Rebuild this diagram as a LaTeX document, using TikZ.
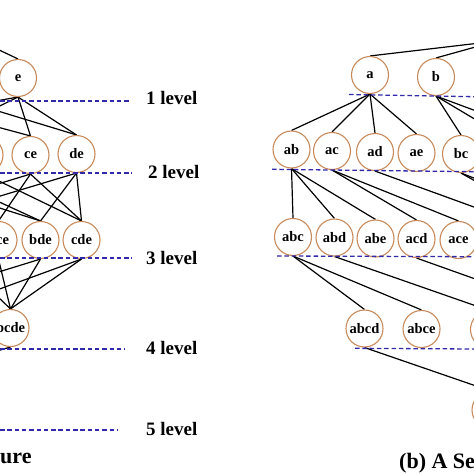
\documentclass[tikz,border=0pt]{standalone}
\usepackage{fontspec}
\setmainfont{Liberation Serif}
\definecolor{ring}{RGB}{200,138,90}
\definecolor{lvl}{RGB}{50,40,170}
\pgfdeclarelayer{bg}
\pgfsetlayers{bg,main}
\tikzset{
  setnode/.style={circle, draw=ring, line width=1.1pt, fill=white, minimum size=37pt, inner sep=0pt,
    font=\fontsize{14.5}{15}\selectfont\bfseries},
  edge/.style={line width=1.2pt, black},
  lvline/.style={draw=lvl, line width=1.3pt, dash pattern=on 4.5pt off 2.8pt},
  lvtext/.style={anchor=west, inner sep=0pt, font=\fontsize{19}{20}\selectfont\bfseries},
  captext/.style={anchor=west, inner sep=0pt, font=\fontsize{22}{24}\selectfont\bfseries},
}
\begin{document}
\begin{tikzpicture}[x=1pt,y=-1pt]
\useasboundingbox (0,0) rectangle (474,474);
\begin{pgfonlayer}{bg}
  \fill[white] (0,0) rectangle (474,474);
\end{pgfonlayer}
\clip (0,0) rectangle (474,474);

% ---------------- left panel: lattice (nodes outside the frame carry no label) ----------------
\coordinate (Lroot) at (-64,20);
\foreach \n/\x in {a/-246,b/-180,c/-114,d/-48}
  \node[setnode] (L\n) at (\x,78) {};
\node[setnode] (Le) at (18,78) {e};
\foreach \n/\x in {ab/-337.5,ac/-291.5,ad/-245.5,ae/-199.5,bc/-153.5,bd/-107.5,be/-61.5,cd/-15.5}
  \node[setnode] (L\n) at (\x,155) {};
\node[setnode] (Lce) at (30.5,155) {ce};
\node[setnode] (Lde) at (76.5,154) {de};
\foreach \n/\x in {abc/-287.5,abd/-246.5,abe/-205.5,acd/-164.5,ace/-123.5,ade/-82.5,bcd/-41.5}
  \node[setnode] (L\n) at (\x,240) {};
\node[setnode] (Lbce) at (-1.5,240) {bce};
\node[setnode] (Lbde) at (40.5,240) {bde};
\node[setnode] (Lcde) at (81.5,240) {cde};
\foreach \n/\x in {abcd/-253,abce/-187,abde/-121,acde/-55}
  \node[setnode] (L\n) at (\x,328) {};
\node[setnode] (Lbcde) at (10.5,328) {bcde};
\node[setnode] (Labcde) at (-140,410) {};

\begin{pgfonlayer}{bg}
  \clip (0,0) rectangle (474,474);
  \foreach \c in {a,b,c,d,e}
    \draw[edge] (Lroot) -- (L\c.north);
  \foreach \p/\c in {a/ab,a/ac,a/ad,a/ae,b/ab,b/bc,b/bd,b/be,c/ac,c/bc,c/cd,c/ce,d/ad,d/bd,d/cd,d/de,e/ae,e/be,e/ce,e/de,
      ab/abc,ab/abd,ab/abe,ac/abc,ac/acd,ac/ace,ad/abd,ad/acd,ad/ade,ae/abe,ae/ace,ae/ade,bc/abc,bc/bcd,bc/bce,
      bd/abd,bd/bcd,bd/bde,be/abe,be/bce,be/bde,cd/acd,cd/bcd,cd/cde,ce/ace,ce/bce,ce/cde,de/ade,de/bde,de/cde,
      abc/abcd,abc/abce,abd/abcd,abd/abde,abe/abce,abe/abde,acd/abcd,acd/acde,ace/abce,ace/acde,ade/abde,ade/acde,
      bcd/abcd,bcd/bcde,bce/abce,bce/bcde,bde/abde,bde/bcde,cde/acde,cde/bcde,
      abcd/abcde,abce/abcde,abde/abcde,acde/abcde,bcde/abcde}
    \draw[edge] (L\p.south) -- (L\c.north);
\end{pgfonlayer}

\draw[lvline] (0,101) -- (131,101);
\draw[lvline] (0,173) -- (132,173);
\draw[lvline] (0,258) -- (132,258);
\draw[lvline] (0,349) -- (125,349);
\draw[lvline] (0,430) -- (117,430);

\node[lvtext] (t1) at (146,98) {1 level};
\node[lvtext] (t2) at (148,172) {2 level};
\node[lvtext] (t3) at (146,258) {3 level};
\node[lvtext] (t4) at (146,348) {4 level};
\node[lvtext] (t5) at (146,429) {5 level};
\node[captext] (capa) at (0,458) {ure};

% ---------------- right panel: set-enumeration tree ----------------
\coordinate (Rroot) at (497,41);
\node[setnode] (Ra) at (370,75) {a};
\node[setnode] (Rb) at (436,77) {b};
\foreach \n/\x/\y in {c/502/79,d/568/81,e/634/83}
  \node[setnode] (R\n) at (\x,\y) {};
\foreach \n/\x/\y in {ab/291.5/149.5,ac/332/151,ad/375/152,ae/416.5/153,bc/461/154}
  \node[setnode] (R\n) at (\x,\y) {\n};
\foreach \n/\x/\y in {bd/503/155,be/546/156,cd/590/157,ce/632/158,de/674/159}
  \node[setnode] (R\n) at (\x,\y) {};
\foreach \n/\x/\y in {abc/293/237,abd/334.5/237.5,abe/375.5/238.5,acd/416.5/239,ace/458.5/240}
  \node[setnode] (R\n) at (\x,\y) {\n};
\foreach \n/\x/\y in {ade/515/241,bcd/548/241,bce/590/242,bde/632/242,cde/674/243}
  \node[setnode] (R\n) at (\x,\y) {};
\node[setnode] (Rabcd) at (364.5,328.5) {abcd};
\node[setnode] (Rabce) at (421.5,329) {abce};
\foreach \n/\x/\y in {abde/489/329.5,acde/565/330,bcde/640/330}
  \node[setnode] (R\n) at (\x,\y) {};
\node[setnode] (Rabcde) at (490.5,410) {};

\begin{pgfonlayer}{bg}
  \clip (0,0) rectangle (474,474);
  \foreach \c in {a,b,c,d,e}
    \draw[edge] (Rroot) -- (R\c.north);
  \foreach \p/\c in {a/ab,a/ac,a/ad,a/ae,b/bc,b/bd,b/be,c/cd,c/ce,d/de,
      ab/abc,ab/abd,ab/abe,ac/acd,ac/ace,ad/ade,bc/bcd,bc/bce,bd/bde,cd/cde,
      abc/abcd,abc/abce,abd/abde,acd/acde,bcd/bcde,abcd/abcde}
    \draw[edge] (R\p.south) -- (R\c.north);
\end{pgfonlayer}

\draw[lvline] (349,94.5) -- (474,96.7);
\draw[lvline] (272,169.3) -- (474,171.7);
\draw[lvline] (277,256) -- (474,256.7);
\draw[lvline] (355,348.3) -- (474,349);

\node[captext] (capb) at (399,463) {(b) A Se};
\end{tikzpicture}
\end{document}
